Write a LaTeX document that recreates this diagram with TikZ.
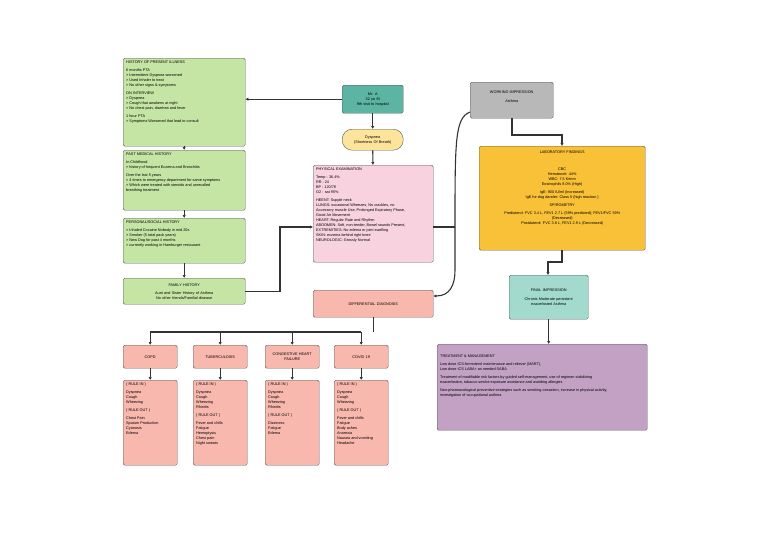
\documentclass[tikz,border=0pt]{standalone}
\usepackage{fontspec}
\setmainfont{Liberation Sans}
\usetikzlibrary{arrows.meta}
\newcommand{\topbox}[3]{\begin{minipage}[t][#2][t]{#1}\raggedright #3\end{minipage}}
\newcommand{\topboxc}[3]{\begin{minipage}[t][#2][t]{#1}\centering #3\end{minipage}}
\begin{document}
\begin{tikzpicture}[x=1pt,y=-1pt,
  box/.style={draw=gray!70!black,rounded corners=1.5pt,line width=0.4pt,inner sep=3pt,
    font=\fontsize{3.8}{5}\selectfont,align=left,text width=#1},
  box/.default=110pt,
  tb/.style={draw=gray!70!black,rounded corners=1.5pt,line width=0.4pt,inner sep=3pt,
    font=\fontsize{3.8}{5}\selectfont},
  arr/.style={draw=black!80,line width=1.1pt,-{Latex[length=3pt,width=3.4pt]}},
  ln/.style={draw=black!80,line width=1.1pt}]
\useasboundingbox (0,0) rectangle (768,539);
\definecolor{cgreen}{HTML}{C5E5A5}
\definecolor{cteal}{HTML}{5BB5A2}
\definecolor{cyel}{HTML}{FCE59B}
\definecolor{cpink}{HTML}{F8D3DF}
\definecolor{csalm}{HTML}{F8B8AE}
\definecolor{cgray}{HTML}{B8B8B8}
\definecolor{corange}{HTML}{F9C137}
\definecolor{cmint}{HTML}{A2DBCE}
\definecolor{cpurp}{HTML}{C3A1C5}

% left column
\node[tb,fill=cgreen,anchor=north west] (hpi) at (123,58) {\topbox{116pt}{82pt}{HISTORY OF PRESENT ILLNESS\\[3pt]
6 months PTA\\> Intermittent Dyspnea worsened\\> Used Inhaler to treat\\> No other signs \& symptoms\\[3pt]
ON INTERVIEW\\> Dyspnea\\> Cough that awakens at night\\> No chest pain, diarrhea and fever\\[3pt]
1 hour PTA\\> Symptoms Worsened that lead to consult}};
\node[tb,fill=cgreen,anchor=north west] (pmh) at (123,150) {\topbox{116pt}{54pt}{PAST MEDICAL HISTORY\\[3pt]
In Childhood\\> history of frequent Eczema and Bronchitis\\[3pt]
Over the last 5 years\\> 4 times to emergency department for same symptoms\\> Which were treated with steroids and unrecalled\\breathing treatment}};
\node[tb,fill=cgreen,anchor=north west] (psh) at (123,218) {\topbox{116pt}{39pt}{PERSONAL/SOCIAL HISTORY\\[3pt]
> Inhaled Cocaine Nobody in mid 20s\\> Smoker (5 total pack years)\\> New Dog for past 4 months\\> currently working in Hamburger restaurant}};
\node[box=116pt,fill=cgreen,anchor=north west,minimum height=26pt,align=center] (fh) at (123,278) {FAMILY HISTORY\\[3pt]
Aunt and Sister History of Asthma\\No other friends/Familial disease};

% middle column
\node[box=55pt,fill=cteal,anchor=north west,minimum height=28pt,align=center] (mra) at (342,85) {Mr. A\\32 yo M\\9th visit to hospital};
\node[box=55pt,fill=cyel,anchor=north west,minimum height=21pt,align=center,rounded corners=10pt] (dys) at (342,129) {Dyspnea\\(Shortness Of Breath)};
\node[tb,fill=cpink,anchor=north west] (pe) at (313,165) {\topbox{114pt}{91pt}{PHYSICAL EXAMINATION\\[3pt]
Temp : 36.4\%\\RR : 24\\BP : 120/78\\O2 : sat 95\%\\[3pt]
HEENT: Supple neck\\LUNGS: occasional Wheezes, No crackles, no\\Accessory muscle Use, Prolonged Expiratory Phase,\\Good Air Movement\\HEART: Regular Rate and Rhythm\\ABDOMEN: Soft, non-tender, Bowel sounds Present,\\EXTREMITIES: No edema or joint swelling\\SKIN: eczema behind right knee\\NEUROLOGIC: Grossly Normal}};
\node[box=114pt,fill=csalm,anchor=north west,minimum height=27pt,align=center] (dd) at (313,290) {DIFFERENTIAL DIAGNOSIS};

% right column
\node[tb,fill=cgray,anchor=north west] (wi) at (470,82) {\topboxc{77pt}{30pt}{\vspace{6pt}WORKING IMPRESSION\\[4pt]Asthma}};
\node[tb,fill=corange,anchor=north west] (lab) at (479,146) {\topboxc{160pt}{98pt}{\vspace{2pt}LABORATORY FINDINGS\\[12pt]
CBC\\Hematocrit: 44\%\\WBC: 7.5 K/mm\\Eosinophils 8.0\% (High)\\[3pt]
IgE: 900 IU/ml (Increased)\\IgE for dog dander: Class 5 (high reaction )\\[3pt]
SPIROMETRY\\[3pt]
Prediuterol: FVC 3.4 L, FEV1 2.7 L (59\% predicted); FEV1/FVC 59\%\\(Decreased)\\Postduterol: FVC 3.8 L, FEV1 2.9 L (Decreased)}};
\node[box=73pt,fill=cmint,anchor=north west,minimum height=44pt,align=center] (fi) at (509,275) {FINAL IMPRESSION\\[4pt]Chronic Moderate persistent\\exacerbated Asthma};
\node[tb,fill=cpurp,anchor=north west] (tx) at (437,344) {\topbox{204pt}{80pt}{\vspace{8pt}TREATMENT \& MANAGEMENT\\[3pt]
Low dose ICS-formoterol maintenance and reliever (MART),\\Low dose ICS LABA+ as needed SABA\\[3pt]
Treatment of modifiable risk factors by guided self-management, use of regimen stabilizing\\exacerbation, tobacco smoke exposure avoidance and avoiding allergies\\[3pt]
Non-pharmacological preventive strategies such as smoking cessation, increase in physical activity,\\investigation of occupational asthma}};

% diagnoses
\foreach \n/\x/\t in {copd/123/COPD,tb/193/TUBERCULOSIS,chf/265/{CONGESTIVE HEART\\FAILURE},cov/334/COVID 19}{
  \node[box=48pt,fill=csalm,anchor=north west,minimum height=23pt,align=center] (\n) at (\x,345) {\t};
}
\node[tb,fill=csalm,anchor=north west] (copdr) at (123,380) {\topbox{48pt}{79pt}{( RULE IN )\\[3pt]Dyspnea\\Cough\\Wheezing\\[3pt]( RULE OUT )\\[3pt]Chest Pain\\Sputum Production\\Cyanosis\\Edema}};
\node[tb,fill=csalm,anchor=north west] (tbr) at (193,380) {\topbox{48pt}{79pt}{( RULE IN )\\[3pt]Dyspnea\\Cough\\Wheezing\\Rhinitis\\[3pt]( RULE OUT )\\[3pt]Fever and chills\\Fatigue\\Hemoptysis\\Chest pain\\Night sweats}};
\node[tb,fill=csalm,anchor=north west] (chfr) at (265,380) {\topbox{48pt}{79pt}{( RULE IN )\\[3pt]Dyspnea\\Cough\\Wheezing\\Rhinitis\\[3pt]( RULE OUT )\\[3pt]Dizziness\\Fatigue\\Edema}};
\node[tb,fill=csalm,anchor=north west] (covr) at (334,380) {\topbox{48pt}{79pt}{( RULE IN )\\[3pt]Dyspnea\\Cough\\Wheezing\\[3pt]( RULE OUT )\\[3pt]Fever and chills\\Fatigue\\Body aches\\Anorexia\\Nausea and vomiting\\Headache}};

% connectors
\draw[arr] (mra.west) -- (hpi.east |- mra.west);
\draw[arr] (mra) -- (dys);
\draw[arr] (dys) -- (pe);
\draw[arr] (hpi) -- (pmh);
\draw[arr] (pmh) -- (psh);
\draw[arr] (psh) -- (fh);
\coordinate (fhr) at (280,291);
\draw[arr] (fh.east) -- (fhr |- fh.east) -- (fhr |- 0,227) -- (pe.west |- 0,227);
\coordinate (j) at (455,227);
\draw[ln] (pe.east |- j) -- (j);
\draw[arr] (wi.west |- 0,112) .. controls (455,118) and (455,140) .. (j) -- (455,270) .. controls (455,285) and (450,296) .. (dd.east |- 0,296);
\coordinate (wb) at (512,135);
\draw[arr] (wb |- wi.south) -- (wb) -- (562,135) -- (lab.north -| 562,0);
\draw[arr] (562,250) -- (562,262) -- (548,262) -- (548,275);
\draw[arr] (fi) -- (fi.south |- tx.north);
\coordinate (bus) at (0,332);
\draw[ln] (dd.south) -- (dd.south |- bus);
\draw[ln] (copd.north |- bus) -- (cov.north |- bus);
\foreach \n in {copd,tb,chf,cov}{
  \draw[arr] (\n.north |- bus) -- (\n.north);
  \draw[arr] (\n) -- (\n r);
}
\end{tikzpicture}
\end{document}
